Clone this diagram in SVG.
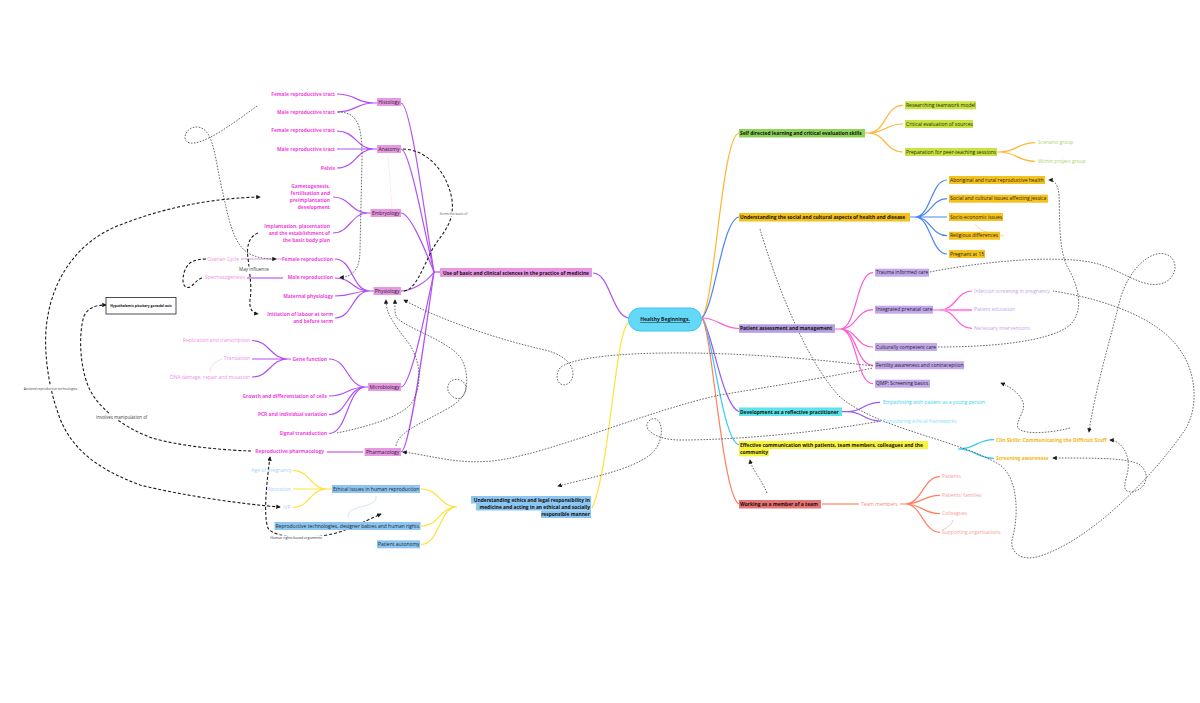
<svg xmlns="http://www.w3.org/2000/svg" width="1200" height="703" viewBox="0 0 1200 703">
<defs>
<style>
text{font-family:"Open Sans","Liberation Sans",sans-serif;}
.r{font-size:5px;fill:#222}
.b{font-size:4.9px;font-weight:700;fill:#111}
.pk{font-size:4.9px;font-weight:700;fill:#ee44dd;text-anchor:end}
.lp{font-size:5px;fill:#f28be6;text-anchor:end}
.e{text-anchor:end}
.m{text-anchor:middle}
.c{fill:none;stroke-width:1.2}
.pu{stroke:#b24ef5}
.ye{stroke:#ffe13a}
.or{stroke:#ffb52e}
.bl{stroke:#4a86f0}
.mg{stroke:#ff5ad8}
.dv{stroke:#9a58f2}
.cy{stroke:#38c9f5}
.sa{stroke:#ff7f5f}
.th{fill:none;stroke-width:2.2}
.dk{fill:none;stroke:#1a1a1a;stroke-width:1.1;stroke-dasharray:3 2}
.dg{fill:none;stroke:#444;stroke-width:0.8;stroke-dasharray:1.6 1.4}
.lb{fill:#fff}
.hp{fill:#e897e3}
.hb{fill:#8ec6f2}
.hg{fill:#c9e23e}
.ho{fill:#f5c21b}
.hv{fill:#c3a8ec}
</style>
<marker id="a" viewBox="0 0 6 6" refX="5" refY="3" markerWidth="4.5" markerHeight="4.5" orient="auto-start-reverse" markerUnits="userSpaceOnUse"><path d="M0,0 L6,3 L0,6 z" fill="#1a1a1a"/></marker>
</defs>
<rect width="1200" height="703" fill="#fff"/>

<g id="connectors">
<!-- left purple -->
<path class="c pu" d="M 629 318 C 612 316, 610 273, 593 273"/>
<path class="c pu" d="M 441 272 L 434 272"/>
<path class="c pu" d="M 401 103 C 411 103, 426 225, 434 272"/>
<path class="c pu" d="M 401 149 C 410 149, 426 240, 434 272"/>
<path class="c pu" d="M 401 213 C 411 213, 427 255, 434 272"/>
<path class="c pu" d="M 401 291 C 412 291, 427 282, 434 272"/>
<path class="c pu" d="M 401 387 C 411 387, 427 305, 434 272"/>
<path class="c pu" d="M 401 452 C 410 452, 427 320, 434 272"/>
<path class="c pu" d="M 337 94 C 356 94, 356 103, 374 103 M 337 112 C 356 112, 356 103, 374 103 M 374 103 L 377 103"/>
<path class="c pu" d="M 337 131 C 356 131, 356 149, 374 149 M 337 149 L 377 149 M 337 168 C 356 168, 356 149, 374 149"/>
<path class="c pu" d="M 333 197 C 350 197, 351 213, 368 213 M 333 233 C 350 233, 351 213, 368 213 M 368 213 L 371 213"/>
<path class="c pu" d="M 335 259 C 353 259, 352 291, 370 291 M 335 278 C 353 278, 352 291, 370 291 M 335 296 C 353 296, 352 291, 370 291 M 335 318 C 353 318, 352 291, 370 291 M 370 291 L 374 291"/>
<path class="c pu" d="M 329 359 C 348 359, 347 387, 366 387 M 329 396 C 348 396, 347 387, 366 387 M 329 414.5 C 348 414.5, 347 387, 366 387 M 329 433.5 C 348 433.5, 347 387, 366 387 M 366 387 L 369 387"/>
<path class="c pu" d="M 252 340.5 C 270 340.5, 270 359, 288 359 M 252 359 L 291 359 M 252 377 C 270 377, 270 359, 288 359"/>
<path class="th" stroke="#dd9af5" d="M 327 452 L 363 452 M 247 278 L 283 278"/>
<path fill="none" stroke="#dd9af5" stroke-width="1.2" d="M 241 259 L 283 259"/>
<path fill="none" stroke="#f5b8ee" stroke-width="0.6" stroke-dasharray="1 1" d="M 388 155 L 392 208"/>
<path fill="none" stroke="#f8c6f0" stroke-width="0.7" d="M 222 359 C 214 362, 210 366, 210 372"/>

<!-- yellow ethics -->
<path class="c ye" d="M 629 322 C 615 330, 610 470, 592 508"/>
<path class="c ye" d="M 421 489 C 440 489, 439 507, 457 507 M 421 526 C 440 526, 439 507, 457 507 M 421 544.3 C 440 544.3, 439 507, 457 507"/>
<path class="c ye" d="M 293 470.3 C 310 470.3, 310 489, 327 489 M 293 489 L 332 489 M 293 507.3 C 310 507.3, 310 489, 327 489"/>
<path fill="none" stroke="#b8dcf8" stroke-width="0.7" d="M 376 496 C 378 505, 360 506, 352 510 C 348 512, 348 516, 348 518"/>

<!-- orange -->
<path class="c or" d="M 702 318 C 715 300, 722 135, 739 133"/>
<path class="c or" d="M 865 133 L 868 133 M 868 133 C 886 133, 885 105.3, 903 105.3 M 868 133 C 886 133, 885 124, 903 124 M 868 133 C 886 133, 885 152, 903 152"/>
<path class="c or" d="M 997 152 L 999 152 M 999 152 C 1017 152, 1017 142.7, 1035 142.7 M 999 152 C 1017 152, 1017 161.3, 1035 161.3"/>

<!-- blue -->
<path class="c bl" d="M 702 318 C 715 305, 722 220, 739 217"/>
<path class="c bl" d="M 910 217 L 915 217 M 915 217 C 931 217, 931 180, 947 180 M 915 217 C 931 217, 931 198.7, 947 198.7 M 915 217 L 947 217 M 915 217 C 931 217, 931 235.7, 947 235.7 M 915 217 C 931 217, 931 254, 947 254"/>
<path fill="none" stroke="#f8d070" stroke-width="0.7" d="M 975 224.3 C 978 228, 982 231, 987 232 M 1000 235.7 L 1004 235.7"/>

<!-- magenta -->
<path class="c mg" d="M 702 318 C 718 318, 722 328.5, 739 328.5"/>
<path class="c mg" d="M 835 329 L 840 329 M 840 329 C 857 329, 856 272.7, 873 272.7 M 840 329 C 857 329, 856 309.7, 873 309.7 M 840 329 C 857 329, 856 347, 873 347 M 840 329 C 857 329, 856 365.3, 873 365.3 M 840 329 C 857 329, 856 383.7, 873 383.7"/>
<path class="c mg" d="M 933 310 L 940 310 M 940 310 C 956 310, 956 291, 972 291 M 940 310 C 956 310, 956 328.3, 972 328.3"/>
<path class="th" stroke="#ff90e8" d="M 940 310 L 972 310"/>

<!-- development -->
<path class="c dv" d="M 702 318 C 712 330, 722 405, 739 411.7"/>
<path class="c dv" d="M 842 411.7 L 847 411.7 M 847 411.7 C 864 411.7, 863 402.3, 880 402.3 M 847 411.7 C 864 411.7, 863 421, 880 421"/>

<!-- cyan -->
<path class="c cy" d="M 702 318 C 712 330, 722 440, 739 445"/>
<path class="c cy" d="M 958 449 C 976 449, 976 439.7, 994 439.7 M 958 449 C 976 449, 976 458.3, 994 458.3"/>

<!-- salmon -->
<path class="c sa" d="M 702 318 C 712 330, 722 495, 739 504"/>
<path fill="none" stroke="#ff9a80" stroke-width="1.6" d="M 822 504 L 859 504"/>
<path class="c sa" d="M 900 504 L 905 504 M 905 504 C 922 504, 923 476.7, 940 476.7 M 905 504 C 922 504, 923 495.3, 940 495.3 M 905 504 C 922 504, 923 513.7, 940 513.7 M 905 504 C 922 504, 923 532.3, 940 532.3"/>
<path fill="none" stroke="#f8b0a0" stroke-width="0.7" d="M 953 520 C 952 525, 947 528, 942 530"/>

<!-- dashed relations -->
<path class="dg" marker-end="url(#a)" d="M 338 112 C 360 112, 362 130, 362 160 L 360 250 C 360 270, 352 277, 340 277.5"/>
<path class="dg" marker-end="url(#a)" d="M 257 106 C 235 122, 205 145, 190 143 C 180 141, 186 126, 198 127 C 212 129, 214 150, 220 180 C 228 215, 232 245, 250 254 C 258 258, 265 259, 276 259"/>
<path class="dk" marker-start="url(#a)" marker-end="url(#a)" d="M 280 507 C 240 504, 180 495, 140 485 C 100 470, 70 450, 58 413 C 48 385, 42 345, 48 315 C 55 275, 80 240, 120 225 C 170 205, 220 198, 260 197"/>
<path class="dk" marker-end="url(#a)" d="M 251 451 C 220 450, 180 446, 152 438 C 125 428, 100 410, 90 390 C 80 370, 78 335, 84 316 C 88 308, 95 305, 106 305"/>
<path class="dk" d="M 206 259 C 195 259, 188 262, 185 270 C 181 280, 183 290, 190 287 C 195 284, 196 280, 202 278"/>
<path class="dk" marker-end="url(#a)" d="M 258 233 C 250 236, 246 245, 248 258 C 250 275, 252 290, 250 300 C 249 308, 252 313, 258 314"/>
<path class="dk" d="M 403 149 C 430 150, 448 175, 452 200 C 455 225, 440 235, 432 250 C 422 270, 415 290, 404 291"/>
<path class="dg" marker-end="url(#a)" d="M 337 433 C 360 428, 395 420, 410 405 C 422 390, 422 365, 410 345 C 395 325, 386 315, 386 300"/>
<path class="dg" marker-end="url(#a)" d="M 396 446 C 398 432, 420 424, 445 410 C 465 400, 472 385, 460 380 C 448 376, 442 392, 455 398 C 468 403, 470 375, 462 360 C 452 342, 410 330, 397 318 C 394 312, 395 305, 395 300"/>
<path class="dg" marker-start="url(#a)" d="M 404 300 C 440 320, 500 340, 545 350 C 570 356, 578 372, 570 382 C 562 390, 552 380, 560 368 C 575 352, 700 345, 873 366"/>
<path class="dg" marker-start="url(#a)" d="M 403 452 C 430 455, 460 466, 500 460 C 560 450, 650 410, 720 395 C 780 385, 840 375, 873 368"/>
<path class="dg" marker-end="url(#a)" d="M 881 421 C 820 432, 740 440, 680 440 C 655 440, 640 428, 650 420 C 662 412, 668 440, 650 455 C 630 470, 590 478, 558 486"/>
<path class="dk" marker-start="url(#a)" marker-end="url(#a)" d="M 270 457 C 267 480, 263 515, 268 528 C 275 540, 320 540, 345 530 C 360 524, 372 518, 381 514"/>
<path class="dg" marker-end="url(#a)" d="M 938 347 C 990 347, 1050 342, 1070 325 C 1085 310, 1078 285, 1068 268 C 1058 250, 1060 215, 1059 195 C 1058 184, 1054 180, 1049 180"/>
<path class="dg" marker-end="url(#a)" d="M 930 272 C 980 262, 1050 255, 1090 262 C 1120 268, 1140 288, 1160 284 C 1178 280, 1180 258, 1165 254 C 1150 250, 1128 270, 1120 300 C 1110 340, 1095 390, 1089 432"/>
<path class="dg" d="M 760 229 C 775 280, 805 360, 840 397 C 880 430, 960 440, 1000 465 C 1020 480, 1018 520, 1012 540 C 1010 553, 1022 562, 1040 556 C 1090 540, 1150 480, 1185 430 C 1200 405, 1195 370, 1180 350 C 1160 320, 1110 300, 1053 291"/>
<path class="dg" marker-start="url(#a)" marker-end="url(#a)" d="M 1110 440 C 1122 441, 1130 455, 1128 470 C 1126 482, 1120 492, 1132 492 C 1145 490, 1152 475, 1140 465 C 1130 458, 1100 458, 1053 458"/>
<path class="dg" marker-end="url(#a)" d="M 1070 428 C 1055 432, 1025 436, 1018 428 C 1015 420, 1028 410, 1022 400 C 1018 392, 1010 387, 1001 383"/>
<path class="dg" marker-end="url(#a)" d="M 767 493 C 762 480, 752 470, 750 460"/>

<!-- dashed labels -->
<rect class="lb" x="238" y="266.5" width="32" height="6"/>
<text x="254" y="271.4" class="m" font-size="4.6" fill="#444">May influence</text>
<rect class="lb" x="437" y="211.5" width="33" height="4.5"/>
<text x="453.5" y="215.2" class="m" font-size="3.3" fill="#555">forms the basis of</text>
<rect class="lb" x="20" y="386" width="61" height="4.5"/>
<text x="50.5" y="389.5" class="m" font-size="3.3" fill="#444">Assisted reproductive technologies</text>
<rect class="lb" x="93" y="414" width="57" height="6"/>
<text x="121.7" y="418.8" class="m" font-size="4.5" fill="#444">involves manipulation of</text>
<rect class="lb" x="268" y="535.5" width="56" height="4"/>
<text x="296" y="538.6" class="m" font-size="3.5" fill="#333">Human rights based arguments</text>
</g>

<g id="healthy-beginnings">
<rect x="628.5" y="308" width="73" height="23" rx="11.5" fill="#64d8f7" stroke="#3fc6ef" stroke-width="1"/>
<text x="665" y="321.2" class="m" font-size="5" font-weight="700" fill="#1a1a1a" text-decoration="underline">Healthy Beginnings.</text>
</g>

<g id="basic-sciences">
<rect class="hp" x="440" y="268" width="152" height="9"/>
<text x="516" y="274.6" class="b m">Use of basic and clinical sciences in the practice of medicine</text>
</g>
<g id="histology">
<rect class="hp" x="377" y="98" width="24" height="8"/>
<text x="389" y="103.7" class="r m">Histology</text>
<text x="335" y="95.6" class="pk">Female reproductive tract</text>
<text x="335" y="113.6" class="pk">Male reproductive tract</text>
</g>
<g id="anatomy">
<rect class="hp" x="377" y="145" width="24" height="8"/>
<text x="389" y="150.7" class="r m">Anatomy</text>
<text x="335" y="132.3" class="pk">Female reproductive tract</text>
<text x="335" y="150.6" class="pk">Male reproductive tract</text>
<text x="335" y="169.6" class="pk">Pelvis</text>
</g>
<g id="embryology">
<rect class="hp" x="370.5" y="209" width="30.5" height="8"/>
<text x="385.7" y="214.7" class="r m">Embryology</text>
<text class="pk"><tspan x="330" y="187.6">Gametogenesis,</tspan><tspan x="330" y="194.6">fertilisation and</tspan><tspan x="330" y="201.6">preimplantation</tspan><tspan x="330" y="208.6">development</tspan></text>
<text class="pk"><tspan x="330" y="227.6">Implantation, placentation</tspan><tspan x="330" y="234.6">and the establishment of</tspan><tspan x="330" y="241.6">the basic body plan</tspan></text>
</g>
<g id="physiology">
<rect class="hp" x="373.5" y="287" width="27.5" height="8"/>
<text x="387.2" y="292.7" class="r m">Physiology</text>
<text x="333" y="260.6" class="pk">Female reproduction</text>
<text x="333" y="279.3" class="pk">Male reproduction</text>
<text x="333" y="297.6" class="pk">Maternal physiology</text>
<text class="pk"><tspan x="333" y="315.9">Initiation of labour at term</tspan><tspan x="333" y="323.3">and before term</tspan></text>
<text x="239" y="260.6" class="lp">Ovarian Cycle</text>
<text x="245" y="279.3" class="lp">Spermatogenesis</text>
</g>
<g id="microbiology">
<rect class="hp" x="368" y="383" width="33" height="8"/>
<text x="384.5" y="388.7" class="r m">Microbiology</text>
<text x="327" y="360.6" class="pk">Gene function</text>
<text x="327" y="397.6" class="pk">Growth and differentiation of cells</text>
<text x="327" y="415.9" class="pk">PCR and individual variation</text>
<text x="327" y="434.9" class="pk">Signal transduction</text>
<text x="250" y="341.9" class="lp">Replication and transcription</text>
<text x="250" y="360.3" class="lp">Translation</text>
<text x="250" y="378.6" class="lp">DNA damage, repair and mutation</text>
</g>
<g id="pharmacology">
<rect class="hp" x="364.5" y="448" width="36.5" height="8"/>
<text x="382.7" y="453.7" class="r m">Pharmacology</text>
<text x="324" y="453.3" class="pk">Reproductive pharmacology</text>
</g>
<g id="hpg-axis">
<rect x="106" y="297.5" width="70" height="16.5" fill="#fff" stroke="#222" stroke-width="0.8"/>
<text x="141" y="306.9" class="m" font-size="3.4" font-weight="700" fill="#111">Hypothalamic pituitary gonadal axis</text>
</g>

<g id="ethics">
<rect class="hb" x="471" y="496" width="120" height="7.5"/>
<rect class="hb" x="476" y="503" width="115" height="7.5"/>
<rect class="hb" x="541" y="510.5" width="50" height="7.5"/>
<text class="b e"><tspan x="590" y="501.7">Understanding ethics and legal responsibility in</tspan><tspan x="590" y="508.8">medicine and acting in an ethical and socially</tspan><tspan x="590" y="516.1">responsible manner</tspan></text>
</g>
<g id="ethical-issues">
<rect class="hb" x="332" y="485" width="88" height="8"/>
<text x="333" y="490.5" class="r">Ethical issues in human reproduction</text>
<text x="291.7" y="471.9" class="r e" style="fill:#a8d2f7">Age of pregnancy</text>
<text x="291" y="490.5" class="r e" style="fill:#a8d2f7">Aboration</text>
<text x="290" y="509" class="r e" style="fill:#a8d2f7">IVF</text>
</g>
<g id="repro-tech">
<rect class="hb" x="274.5" y="522" width="146" height="8"/>
<text x="275.5" y="527.7" class="r">Reproductive technologies, designer babies and human rights</text>
</g>
<g id="patient-autonomy">
<rect class="hb" x="377" y="540.3" width="43" height="8"/>
<text x="378" y="546" class="r">Patient autonomy</text>
</g>

<g id="self-directed">
<rect x="739" y="129" width="126" height="8.5" fill="#8fd45a"/>
<text x="740" y="135" class="b">Self directed learning and critical evaluation skills</text>
<rect class="hg" x="905" y="101.3" width="71" height="8"/>
<text x="906" y="107" class="r">Researching teamwork model</text>
<rect class="hg" x="905" y="120" width="68" height="8"/>
<text x="906" y="125.7" class="r">Critical evaluation of sources</text>
<rect class="hg" x="905" y="148" width="92" height="8"/>
<text x="906" y="153.7" class="r">Preparation for peer-teaching sessions</text>
<text x="1038" y="144.4" class="r" style="fill:#a6d86c">Scenario group</text>
<text x="1038" y="163" class="r" style="fill:#a6d86c">Within project group</text>
</g>

<g id="social-cultural">
<rect class="ho" x="739" y="213" width="171" height="8.5"/>
<text x="740" y="218.9" class="b">Understanding the social and cultural aspects of health and disease</text>
<rect class="ho" x="949" y="176" width="96" height="8"/>
<text x="950" y="181.7" class="r">Aboriginal and rural reproductive health</text>
<rect class="ho" x="949" y="194.7" width="99" height="8"/>
<text x="950" y="200.4" class="r">Social and cultural issues affecting jessica</text>
<rect class="ho" x="949" y="213" width="54" height="8"/>
<text x="950" y="218.7" class="r">Socio-economic issues</text>
<rect class="ho" x="949" y="231.7" width="51" height="8"/>
<text x="950" y="237.4" class="r">Religious differences</text>
<rect class="ho" x="949" y="250" width="36" height="8"/>
<text x="950" y="255.7" class="r">Pregnant at 15</text>
</g>

<g id="patient-assessment">
<rect x="739" y="324.3" width="96" height="8.5" fill="#b69ee3"/>
<text x="740" y="330.2" class="b">Patient assessment and management</text>
<rect class="hv" x="875" y="268.7" width="54" height="8"/>
<text x="876" y="274.4" class="r">Trauma informed care</text>
<rect class="hv" x="875" y="305.7" width="58" height="8"/>
<text x="876" y="311.4" class="r">Integrated prenatal care</text>
<rect class="hv" x="875" y="343" width="62" height="8"/>
<text x="876" y="348.7" class="r">Culturally competent care</text>
<rect class="hv" x="875" y="361.3" width="89" height="8"/>
<text x="876" y="367" class="r">Fertility awareness and contraception</text>
<rect class="hv" x="875" y="379.7" width="55" height="8"/>
<text x="876" y="385.4" class="r">QMP: Screening basics</text>
<text x="974" y="292.7" class="r" style="fill:#c49ff0">Infection screening in pregnancy</text>
<text x="974" y="311.4" class="r" style="fill:#c49ff0">Patient education</text>
<text x="974" y="330" class="r" style="fill:#c49ff0">Necessary interventions</text>
</g>

<g id="reflective">
<rect x="739" y="407.5" width="103" height="8.5" fill="#5de3ea"/>
<text x="740" y="413.5" class="b">Development as a reflective practitioner</text>
<text x="883" y="404" class="r" style="fill:#2fd5ee">Empathising with patient as a young person</text>
<text x="883" y="422.7" class="r" style="fill:#7fe2f5">Considering ethical frameworks</text>
</g>

<g id="communication">
<rect x="739" y="441" width="189" height="8" fill="#f9f43b"/>
<rect x="739" y="448.3" width="30" height="8" fill="#f9f43b"/>
<text class="b"><tspan x="740" y="446.8">Effective communication with patients, team members, colleagues and the</tspan><tspan x="740" y="454.1">community</tspan></text>
<text x="996" y="441.5" class="b" style="fill:#f5b616;font-size:5px">Clin Skills: Communicating the Difficult Stuff</text>
<text x="996" y="460.1" class="b" style="fill:#f5b616;font-size:5px">Screening awareness</text>
</g>

<g id="teamwork">
<rect x="739" y="500" width="82" height="8.5" fill="#e77272"/>
<text x="740" y="506" class="b">Working as a member of a team</text>
<text x="861" y="505.9" class="r" style="fill:#f08a78">Team members</text>
<text x="942" y="478.4" class="r" style="fill:#f5a095">Patients</text>
<text x="942" y="497" class="r" style="fill:#f5a095">Patients' families</text>
<text x="942" y="515.4" class="r" style="fill:#f5a095">Colleagues</text>
<text x="942" y="534" class="r" style="fill:#f5a095">Supporting organisations</text>
</g>
</svg>
